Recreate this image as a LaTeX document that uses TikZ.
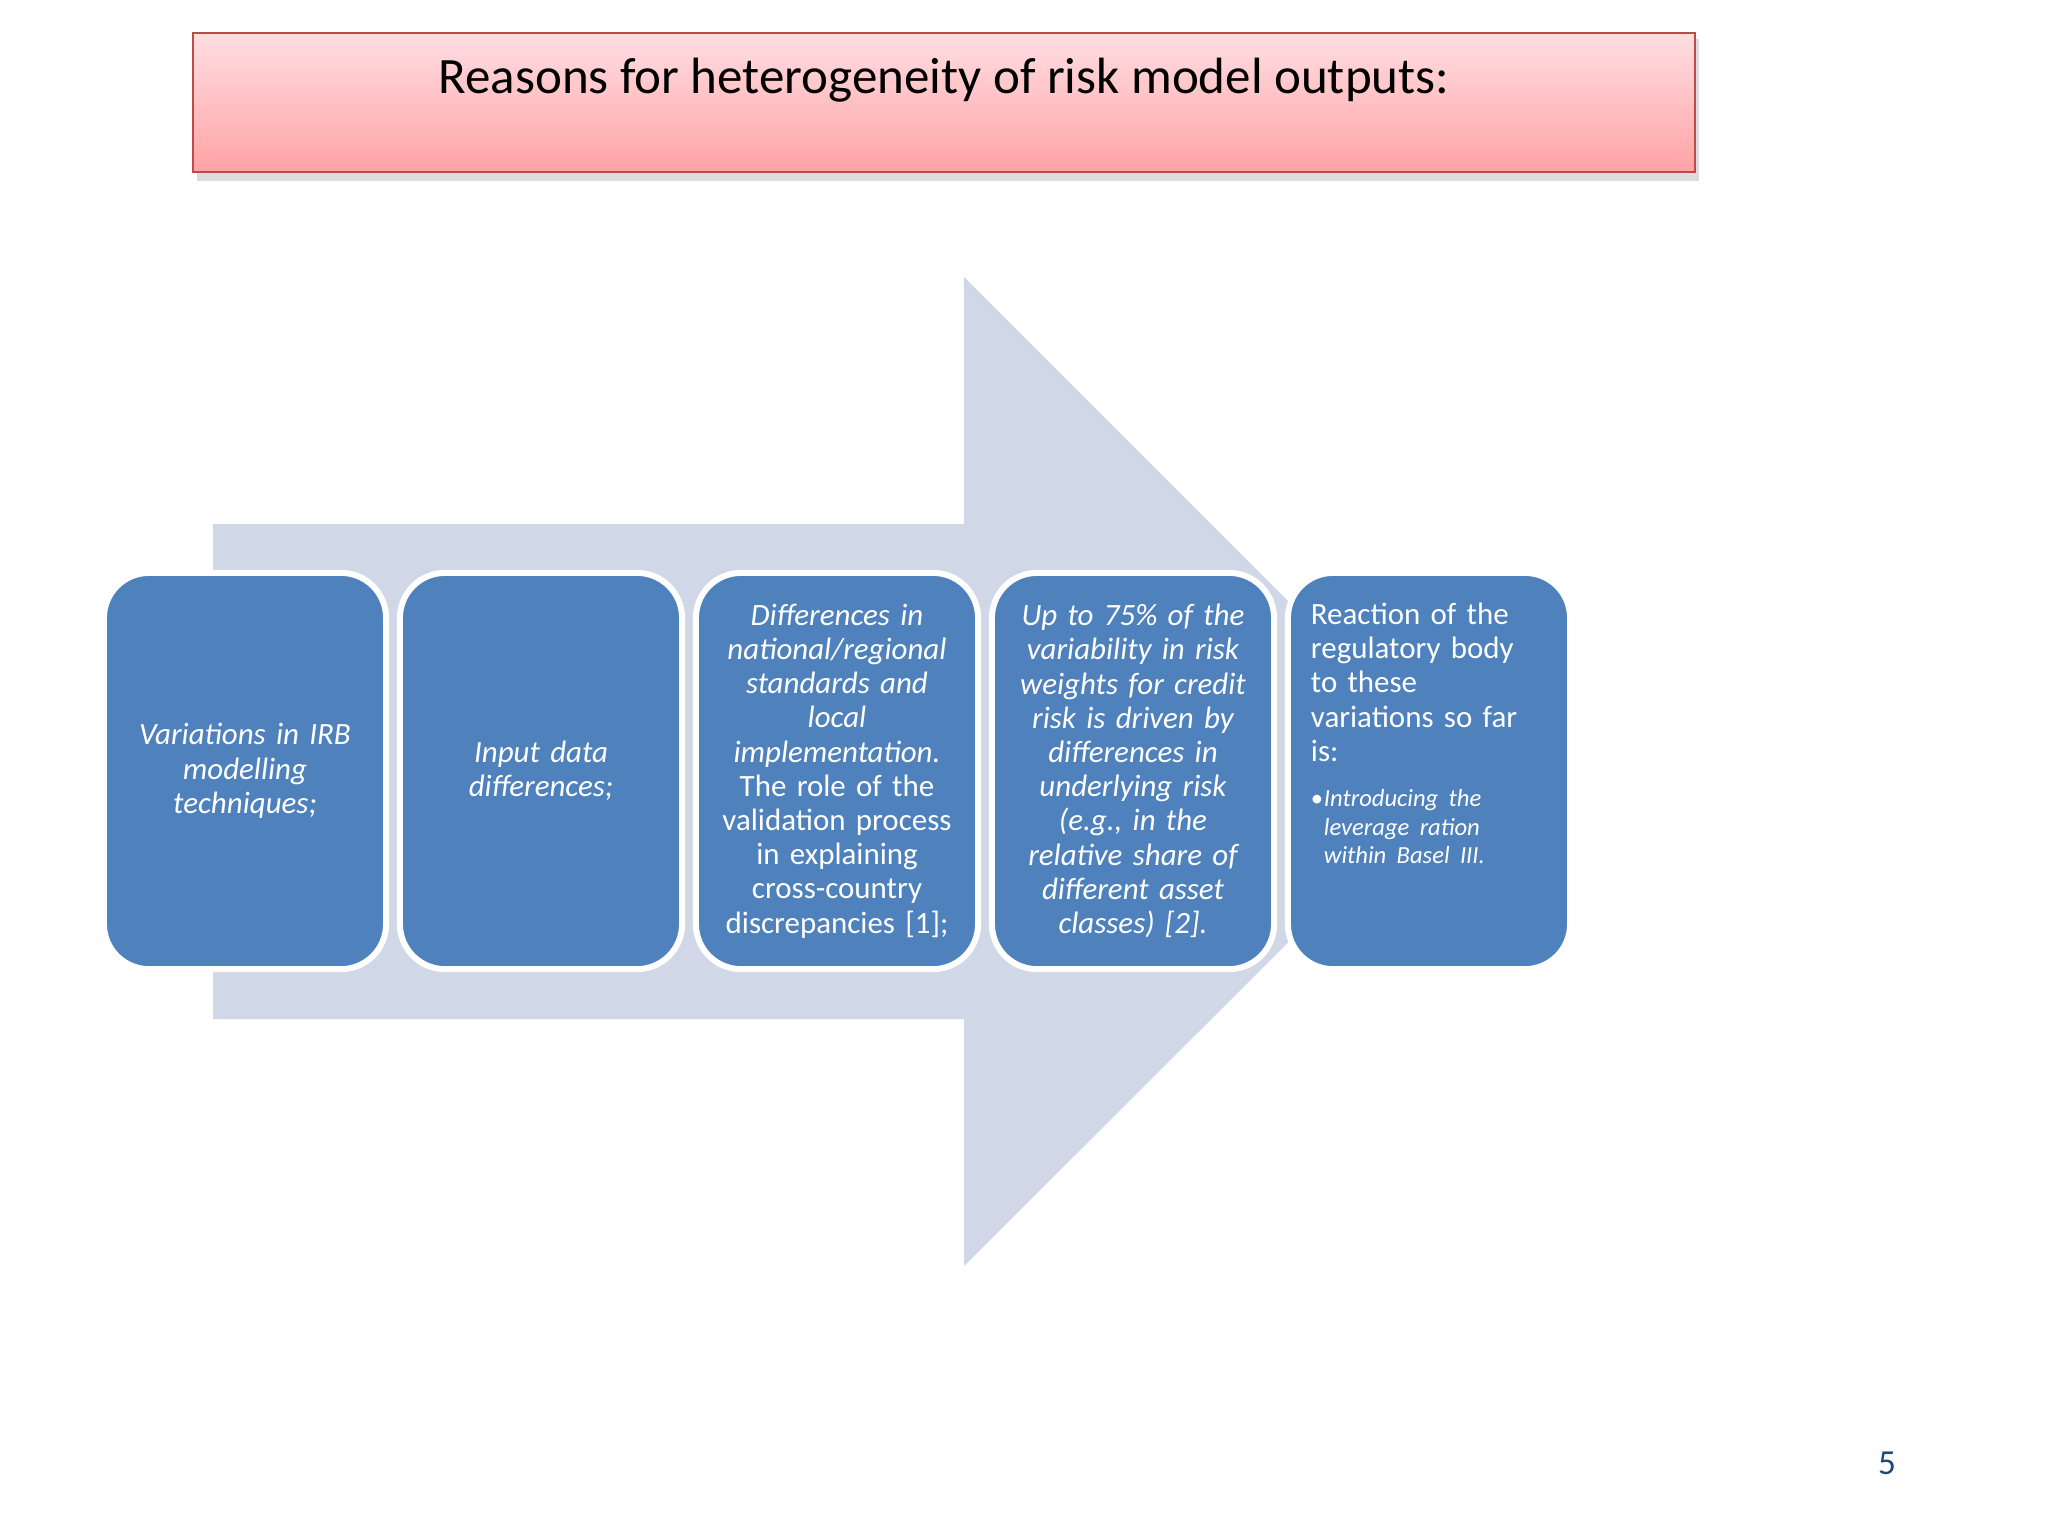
\documentclass[tikz,border=0pt]{standalone}
\usepackage{fontspec}
\setmainfont{Carlito}
\usepackage{tikz}
\usepackage{xcolor}
\definecolor{stageblue}{RGB}{79,129,189}
\definecolor{arrowgray}{RGB}{208,216,232}
\definecolor{titleline}{RGB}{190,75,72}
\definecolor{titletop}{RGB}{255,222,226}
\definecolor{titlebot}{RGB}{255,163,165}
\definecolor{pagenum}{RGB}{31,73,125}
\tikzset{stage/.style={draw=white, line width=0.06cm, fill=stageblue, rounded corners=0.45cm,
  minimum width=2.82cm, minimum height=3.96cm, text width=2.6cm, align=center, inner sep=0pt,
  text=white, font=\fontsize{8.8}{9.73}\selectfont\itshape}}

\begin{document}
\begin{tikzpicture}[x=0.01cm,y=-0.01cm]
\useasboundingbox (0,0) rectangle (2048,1536);
\fill[white] (0,0) rectangle (2048,1536);
\fill[gray!45, opacity=0.6] (197,39) rectangle (1699,181);
\shade[top color=titletop, bottom color=titlebot, draw=titleline, line width=0.7pt] (193,33) rectangle (1695,172);
\node[anchor=base, font=\fontsize{14.5}{17}\selectfont] (title) at (944,93) {Reasons for heterogeneity of risk model outputs:};
\fill[arrowgray] (213,524) -- (964,524) -- (964,277) -- (1459,772) -- (964,1266) -- (964,1019) -- (213,1019) -- cycle;
\foreach \x/\n/\t in {245/1/{Variations in IRB\\ modelling\\ techniques;},
  541/2/{Input data\\ differences;},
  837/3/{Differences in\\ national/regional\\ standards and\\ local\\ implementation.\\ \upshape The role of the\\ validation process\\ in explaining\\ cross-country\\ discrepancies [1];},
  1133/4/{Up to 75\% of the\\ variability in risk\\ weights for credit\\ risk is driven by\\ differences in\\ underlying risk\\ (e.g., in the\\ relative share of\\ different asset\\ classes) [2].}}
  \node[stage] (box\n) at (\x,771) {\t};
\node[stage, font=\fontsize{8.8}{9.73}\selectfont] (box5) at (1429,771) {\parbox[c][3.36cm][t]{2.36cm}{\raggedright
  Reaction of the\\ regulatory body\\ to these\\ variations so far\\ is:\par\vspace{5pt}
  {\fontsize{7}{8}\selectfont\itshape\leftskip=0.13cm\noindent\llap{\makebox[0.13cm][l]{\upshape\textbullet}}Introducing the\\ leverage ration\\ within Basel III.\par}}};
\node[text=pagenum, font=\fontsize{10}{12}\selectfont] (page) at (1887,1463) {5};
\end{tikzpicture}
\end{document}
